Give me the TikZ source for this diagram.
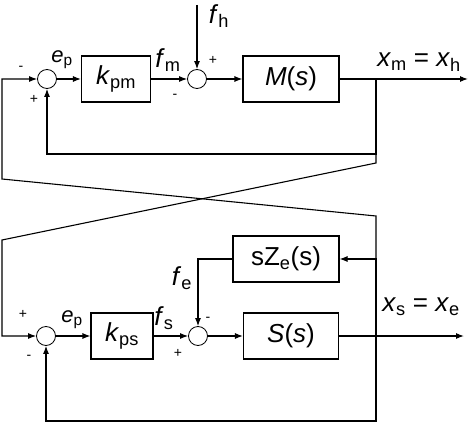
\documentclass[tikz,border=0pt]{standalone}
\usepackage{fontspec}
\setmainfont{Liberation Sans}
\usetikzlibrary{arrows.meta}

\begin{document}
\begin{tikzpicture}[x=1pt,y=-1pt,line width=1.1pt,>={Latex[length=8pt,width=6pt]},
blk/.style={draw,minimum height=46pt,inner sep=0pt,font=\fontsize{26}{26}\selectfont},
sum/.style={draw,circle,minimum size=19pt,inner sep=0pt,line width=0.8pt},
sig/.style={font=\fontsize{26}{26}\selectfont,inner sep=0pt},
sigs/.style={font=\fontsize{22}{22}\selectfont,inner sep=0pt},
sgn/.style={font=\fontsize{14}{14}\selectfont,inner sep=0pt}]
\useasboundingbox (0,0) rectangle (474,425);
\node[sum] (s1) at (47,79){};
\node[blk,minimum width=69pt] (kpm) at (116,79){\textit{k}\textsubscript{pm}};
\node[sum] (s2) at (197,79){};
\node[blk,minimum width=96pt] (M) at (291,79){\textit{M}(\textit{s})};
\coordinate (fh) at (197,5);
\coordinate (jm) at (376,79);
\coordinate (xh) at (468,79);
\node[sum] (s3) at (46,336){};
\node[blk,minimum width=62pt] (kps) at (122,336){\textit{k}\textsubscript{ps}};
\node[sum] (s4) at (198,336){};
\node[blk,minimum width=95pt] (S) at (291,336){\textit{S}(\textit{s})};
\node[blk,minimum width=106pt] (sZ) at (286,259){sZ\textsubscript{e}(s)};
\coordinate (js) at (376,336);
\coordinate (xe) at (464,336);
\draw[->] (s1) -- (kpm);
\draw[->] (kpm) -- (s2);
\draw[->] (fh) -- (s2);
\draw[->] (s2) -- (M);
\draw[->] (M) -- (xh);
\draw[->] (jm) -- (376,154) -| (s1);
\draw[->] (s3) -- (kps);
\draw[->] (kps) -- (s4);
\draw[->] (s4) -- (S);
\draw[->] (S) -- (xe);
\draw[->] (js) |- (sZ);
\draw[->] (sZ) -| (s4);
\draw[->] (js) -- (376,421) -| (s3);
\draw[->] (jm) -- (376,163) -- (2,240) |- (s3);
\draw[->] (js) -- (376,216) -- (2,179) |- (s1);
\node[sgn] (m1) at (21,68){-};
\node[sgn] (p1) at (34,99){+};
\node[sigs] (ep1) at (62,60){\textit{e}\textsubscript{p}};
\node[sig] (fm) at (168,60){\textit{f}\textsubscript{m}};
\node[sgn] (p2) at (213,60){+};
\node[sgn] (m2) at (175,96){-};
\node[sig] (fhl) at (219,16){\textit{f}\textsubscript{h}};
\node[sig] (xml) at (419,62){\textit{x}\textsubscript{m} = \textit{x}\textsubscript{h}};
\node[sgn] (p3) at (23,314){+};
\node[sgn] (m3) at (29,357){-};
\node[sigs] (ep2) at (72,320){\textit{e}\textsubscript{p}};
\node[sig] (fs) at (164,318){\textit{f}\textsubscript{s}};
\node[sgn] (m4) at (208,319){-};
\node[sgn] (p4) at (178,353){+};
\node[sig] (fe) at (182,278){\textit{f}\textsubscript{e}};
\node[sig] (xsl) at (421,307){\textit{x}\textsubscript{s} = \textit{x}\textsubscript{e}};
\end{tikzpicture}
\end{document}
